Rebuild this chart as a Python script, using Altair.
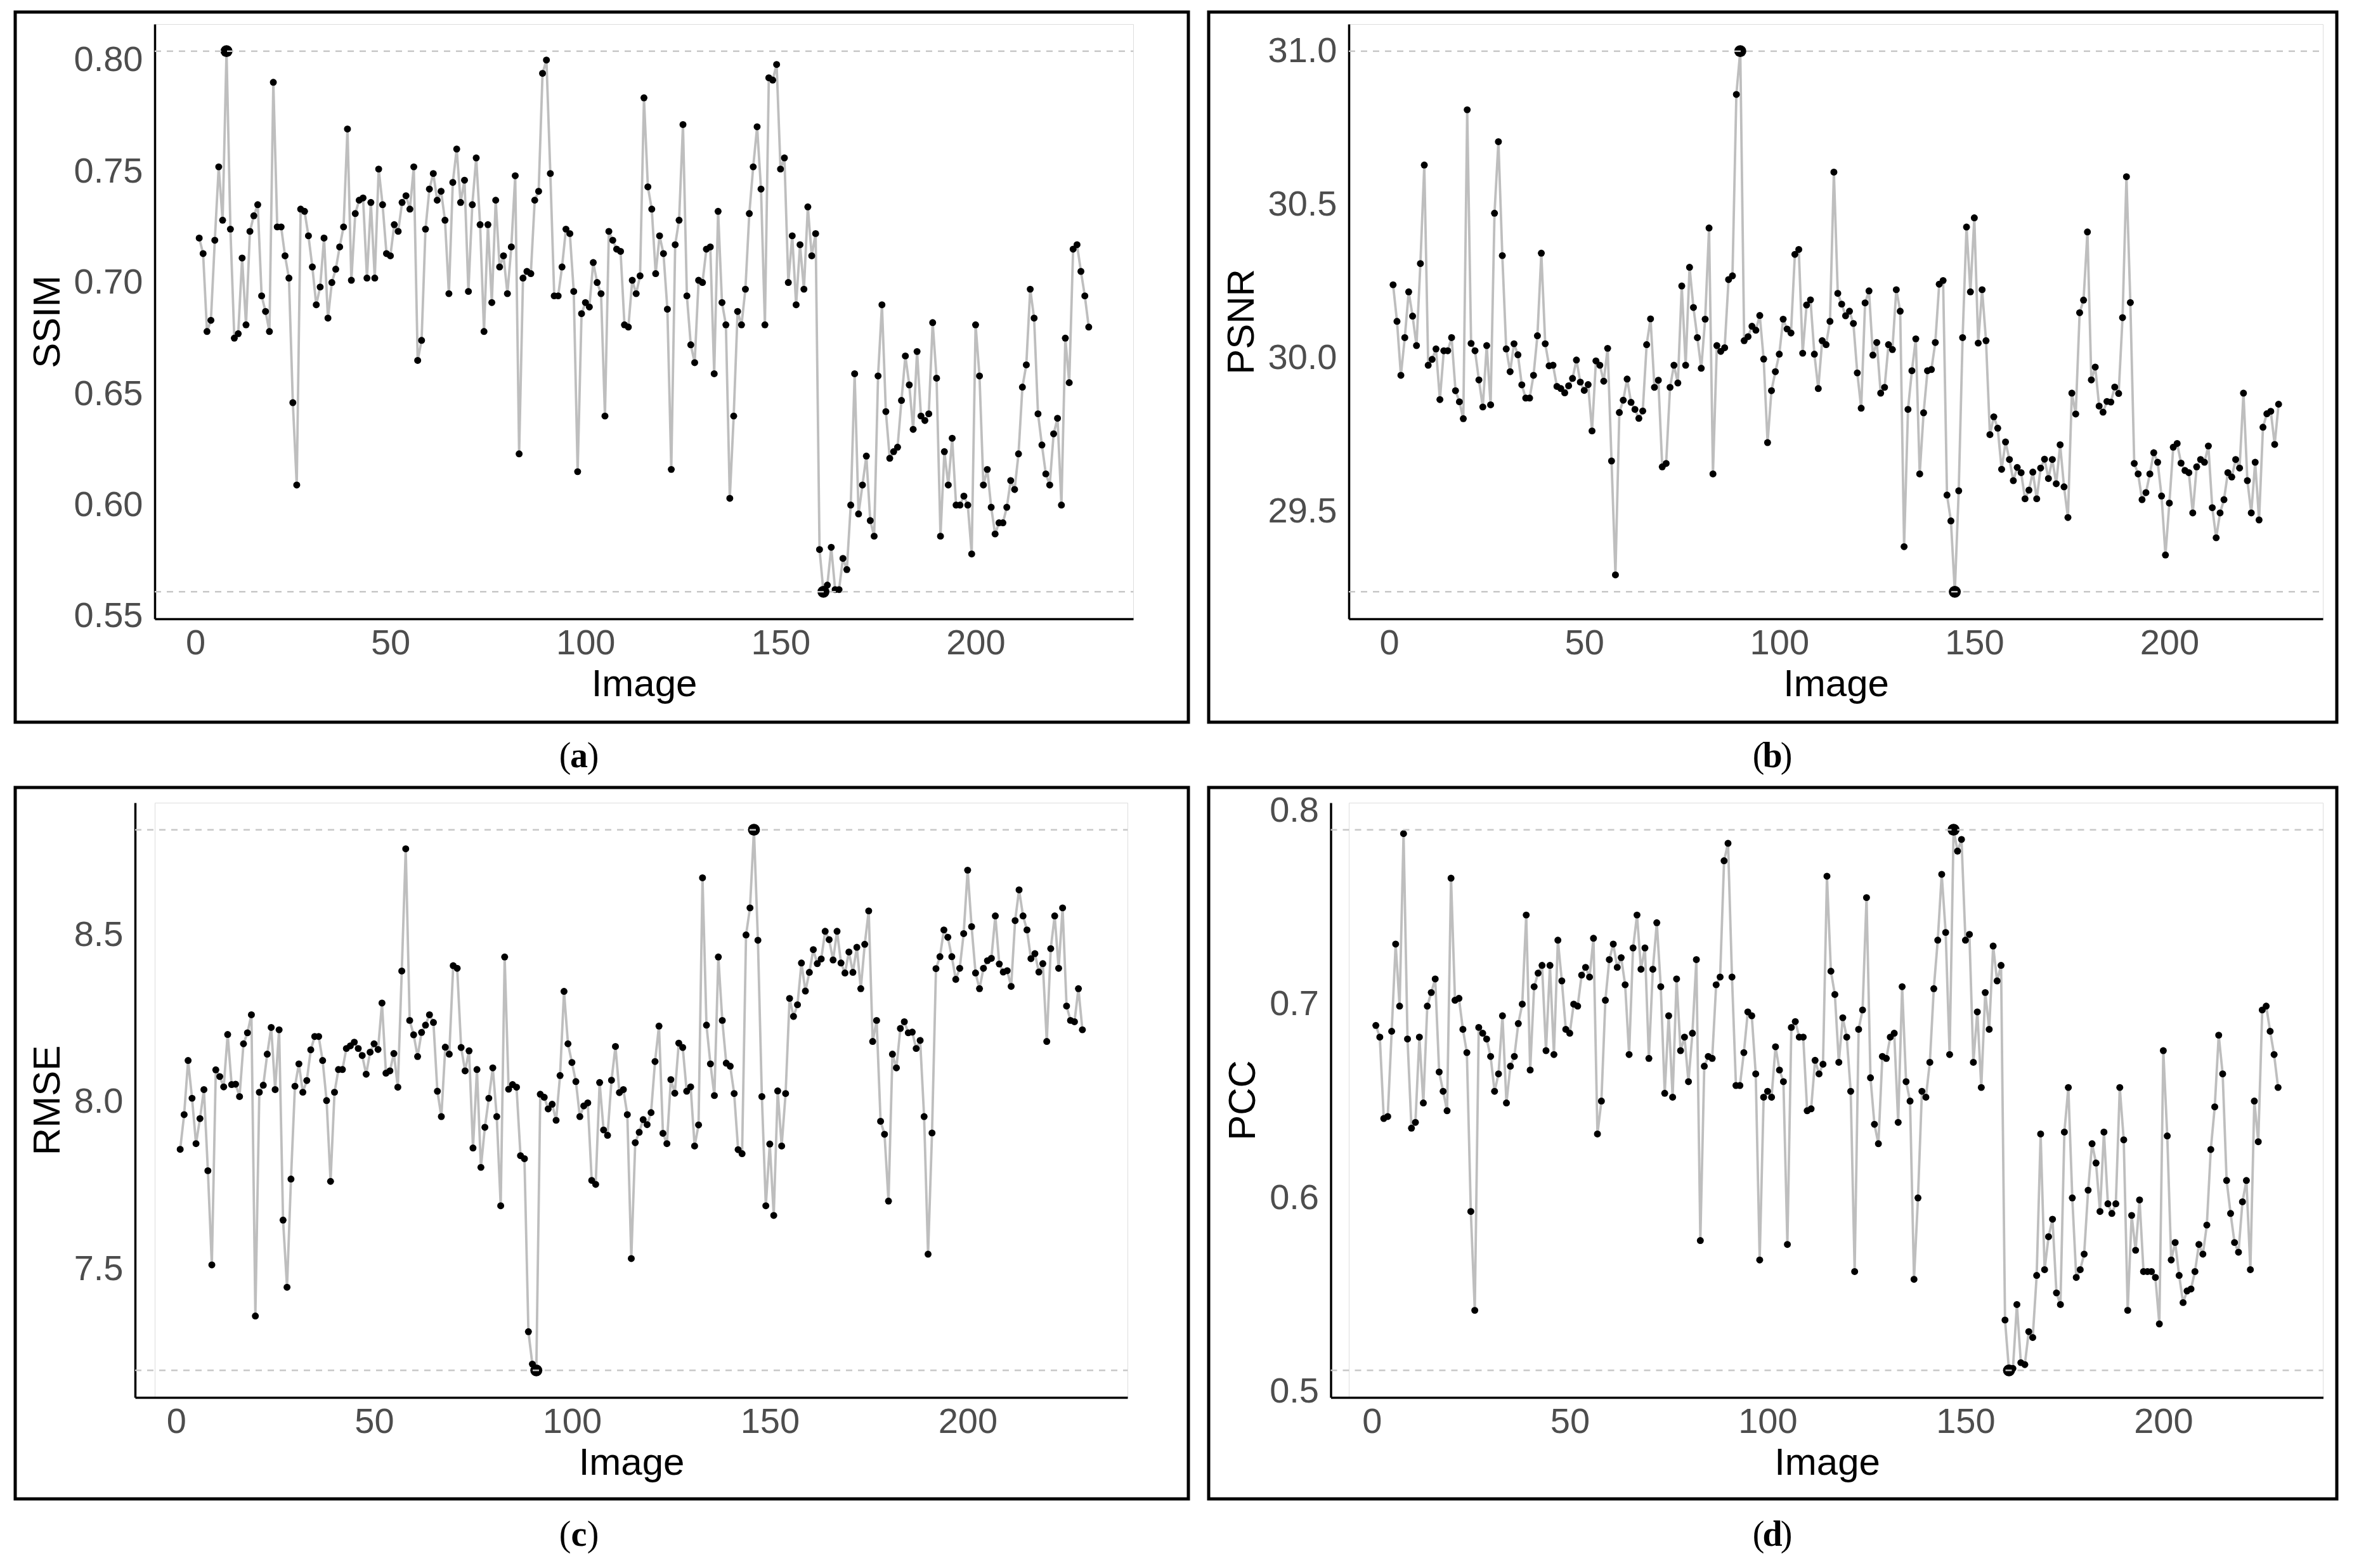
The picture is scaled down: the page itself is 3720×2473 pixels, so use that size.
import altair as alt
import pandas as pd

# ---------------- data ----------------
ssim = [0.720, 0.713, 0.678, 0.683, 0.719, 0.752, 0.728, 0.804, 0.724, 0.675,
        0.677, 0.711, 0.681, 0.723, 0.730, 0.735, 0.694, 0.687, 0.678, 0.790,
        0.725, 0.725, 0.712, 0.702, 0.646, 0.609, 0.733, 0.732, 0.721, 0.707,
        0.690, 0.698, 0.720, 0.684, 0.700, 0.706, 0.716, 0.725, 0.769, 0.701,
        0.731, 0.737, 0.738, 0.702, 0.736, 0.702, 0.751, 0.735, 0.713, 0.712,
        0.726, 0.723, 0.736, 0.739, 0.733, 0.752, 0.665, 0.674, 0.724, 0.742,
        0.749, 0.737, 0.741, 0.728, 0.695, 0.745, 0.760, 0.736, 0.746, 0.696,
        0.735, 0.756, 0.726, 0.678, 0.726, 0.691, 0.737, 0.707, 0.712, 0.695,
        0.716, 0.748, 0.623, 0.702, 0.705, 0.704, 0.737, 0.741, 0.794, 0.800,
        0.749, 0.694, 0.694, 0.707, 0.724, 0.722, 0.696, 0.615, 0.686, 0.691,
        0.689, 0.709, 0.700, 0.695, 0.640, 0.723, 0.719, 0.715, 0.714, 0.681,
        0.680, 0.701, 0.695, 0.703, 0.783, 0.743, 0.733, 0.704, 0.721, 0.713,
        0.688, 0.616, 0.717, 0.728, 0.771, 0.694, 0.672, 0.664, 0.701, 0.700,
        0.715, 0.716, 0.659, 0.732, 0.691, 0.681, 0.603, 0.640, 0.687, 0.681,
        0.697, 0.731, 0.752, 0.770, 0.742, 0.681, 0.792, 0.791, 0.798, 0.751,
        0.756, 0.700, 0.721, 0.690, 0.717, 0.697, 0.734, 0.712, 0.722, 0.580,
        0.561, 0.564, 0.581, 0.562, 0.562, 0.576, 0.571, 0.600, 0.659, 0.596,
        0.609, 0.622, 0.593, 0.586, 0.658, 0.690, 0.642, 0.621, 0.624, 0.626,
        0.647, 0.667, 0.654, 0.634, 0.669, 0.640, 0.638, 0.641, 0.682, 0.657,
        0.586, 0.624, 0.609, 0.630, 0.600, 0.600, 0.604, 0.600, 0.578, 0.681,
        0.658, 0.609, 0.616, 0.599, 0.587, 0.592, 0.592, 0.599, 0.611, 0.607,
        0.623, 0.653, 0.663, 0.697, 0.684, 0.641, 0.627, 0.614, 0.609, 0.632,
        0.639, 0.600, 0.675, 0.655, 0.715, 0.717, 0.705, 0.694, 0.680]

psnr = [30.239, 30.120, 29.944, 30.067, 30.216, 30.137, 30.041, 30.308, 30.629, 29.977,
        29.996, 30.030, 29.865, 30.024, 30.024, 30.067, 29.894, 29.858, 29.803, 30.809,
        30.048, 30.024, 29.929, 29.841, 30.041, 29.848, 30.472, 30.705, 30.334, 30.030,
        29.956, 30.047, 30.011, 29.913, 29.870, 29.870, 29.944, 30.073, 30.342, 30.047,
        29.975, 29.977, 29.908, 29.901, 29.887, 29.910, 29.934, 29.994, 29.922, 29.895,
        29.914, 29.763, 29.991, 29.977, 29.925, 30.032, 29.665, 29.294, 29.823, 29.863,
        29.932, 29.856, 29.833, 29.804, 29.828, 30.044, 30.128, 29.905, 29.928, 29.646,
        29.657, 29.905, 29.977, 29.919, 30.235, 29.977, 30.296, 30.165, 30.067, 29.967,
        30.127, 30.424, 29.623, 30.041, 30.022, 30.034, 30.256, 30.268, 30.859, 31.000,
        30.057, 30.070, 30.104, 30.091, 30.139, 29.997, 29.725, 29.894, 29.956, 30.013,
        30.127, 30.095, 30.082, 30.338, 30.354, 30.016, 30.173, 30.190, 30.013, 29.901,
        30.057, 30.044, 30.120, 30.606, 30.211, 30.176, 30.138, 30.153, 30.113, 29.952,
        29.837, 30.180, 30.219, 30.010, 30.051, 29.886, 29.905, 30.044, 30.028, 30.223,
        30.153, 29.386, 29.833, 29.959, 30.063, 29.623, 29.822, 29.959, 29.963, 30.051,
        30.241, 30.253, 29.554, 29.470, 29.239, 29.568, 30.067, 30.427, 30.216, 30.457,
        30.049, 30.223, 30.057, 29.751, 29.809, 29.772, 29.638, 29.727, 29.670, 29.601,
        29.644, 29.627, 29.542, 29.570, 29.629, 29.542, 29.642, 29.671, 29.608, 29.670,
        29.591, 29.718, 29.581, 29.481, 29.886, 29.818, 30.148, 30.189, 30.411, 29.929,
        29.971, 29.844, 29.824, 29.859, 29.857, 29.906, 29.885, 30.132, 30.591, 30.181,
        29.657, 29.623, 29.539, 29.562, 29.623, 29.692, 29.661, 29.551, 29.359, 29.528,
        29.710, 29.722, 29.658, 29.634, 29.627, 29.496, 29.646, 29.670, 29.661, 29.714,
        29.513, 29.415, 29.496, 29.539, 29.627, 29.613, 29.670, 29.642, 29.886, 29.601,
        29.496, 29.661, 29.473, 29.775, 29.819, 29.827, 29.719, 29.850]

rmse = [7.858, 7.962, 8.124, 8.011, 7.875, 7.950, 8.037, 7.794, 7.512, 8.096,
        8.076, 8.045, 8.202, 8.052, 8.053, 8.016, 8.174, 8.207, 8.261, 7.359,
        8.029, 8.050, 8.143, 8.223, 8.037, 8.216, 7.646, 7.445, 7.769, 8.047,
        8.114, 8.029, 8.064, 8.156, 8.196, 8.196, 8.124, 8.004, 7.762, 8.029,
        8.097, 8.097, 8.160, 8.168, 8.179, 8.160, 8.139, 8.083, 8.149, 8.174,
        8.157, 8.296, 8.086, 8.093, 8.145, 8.044, 8.392, 8.758, 8.244, 8.201,
        8.136, 8.208, 8.230, 8.261, 8.238, 8.032, 7.956, 8.164, 8.143, 8.408,
        8.400, 8.163, 8.093, 8.153, 7.862, 8.097, 7.804, 7.924, 8.011, 8.102,
        7.956, 7.689, 8.434, 8.038, 8.052, 8.044, 7.839, 7.830, 7.312, 7.215,
        7.196, 8.023, 8.014, 7.979, 7.993, 7.945, 8.079, 8.331, 8.174, 8.118,
        8.061, 7.956, 7.988, 7.997, 7.765, 7.753, 8.058, 7.916, 7.900, 8.065,
        8.166, 8.028, 8.037, 7.962, 7.531, 7.878, 7.909, 7.947, 7.932, 7.968,
        8.121, 8.227, 7.906, 7.875, 8.067, 8.026, 8.176, 8.163, 8.032, 8.045,
        7.868, 7.931, 8.671, 8.230, 8.114, 8.019, 8.434, 8.244, 8.116, 8.107,
        8.025, 7.857, 7.845, 8.500, 8.581, 8.815, 8.484, 8.016, 7.689, 7.874,
        7.660, 8.033, 7.868, 8.025, 8.310, 8.256, 8.291, 8.416, 8.332, 8.388,
        8.456, 8.414, 8.428, 8.511, 8.486, 8.425, 8.511, 8.416, 8.386, 8.449,
        8.388, 8.463, 8.339, 8.472, 8.572, 8.181, 8.244, 7.942, 7.903, 7.703,
        8.143, 8.102, 8.220, 8.240, 8.207, 8.209, 8.160, 8.184, 7.956, 7.544,
        7.907, 8.399, 8.435, 8.515, 8.493, 8.435, 8.367, 8.400, 8.504, 8.694,
        8.525, 8.386, 8.339, 8.400, 8.423, 8.430, 8.557, 8.413, 8.389, 8.393,
        8.346, 8.543, 8.635, 8.557, 8.515, 8.429, 8.444, 8.389, 8.414, 8.181,
        8.459, 8.557, 8.400, 8.581, 8.287, 8.244, 8.240, 8.339, 8.216]

pcc = [0.689, 0.683, 0.641, 0.642, 0.686, 0.731, 0.699, 0.788, 0.682, 0.636,
       0.639, 0.683, 0.649, 0.699, 0.706, 0.713, 0.665, 0.655, 0.645, 0.765,
       0.702, 0.703, 0.687, 0.675, 0.593, 0.542, 0.688, 0.685, 0.682, 0.673,
       0.655, 0.664, 0.694, 0.649, 0.668, 0.673, 0.690, 0.700, 0.746, 0.666,
       0.709, 0.716, 0.720, 0.676, 0.720, 0.674, 0.733, 0.712, 0.687, 0.685,
       0.700, 0.699, 0.715, 0.719, 0.714, 0.734, 0.633, 0.650, 0.702, 0.723,
       0.731, 0.719, 0.724, 0.710, 0.674, 0.729, 0.746, 0.718, 0.729, 0.672,
       0.718, 0.742, 0.709, 0.654, 0.694, 0.652, 0.713, 0.676, 0.683, 0.660,
       0.685, 0.723, 0.578, 0.668, 0.673, 0.672, 0.710, 0.714, 0.774, 0.783,
       0.714, 0.658, 0.658, 0.675, 0.696, 0.694, 0.664, 0.568, 0.652, 0.655,
       0.652, 0.678, 0.666, 0.660, 0.576, 0.688, 0.691, 0.683, 0.683, 0.645,
       0.646, 0.671, 0.664, 0.669, 0.766, 0.717, 0.705, 0.670, 0.693, 0.683,
       0.655, 0.562, 0.687, 0.697, 0.755, 0.662, 0.638, 0.628, 0.673, 0.672,
       0.683, 0.685, 0.639, 0.709, 0.660, 0.650, 0.558, 0.600, 0.655, 0.652,
       0.670, 0.708, 0.733, 0.767, 0.737, 0.674, 0.790, 0.779, 0.785, 0.733,
       0.736, 0.670, 0.696, 0.657, 0.706, 0.687, 0.730, 0.712, 0.720, 0.537,
       0.511, 0.512, 0.545, 0.515, 0.514, 0.531, 0.528, 0.560, 0.633, 0.563,
       0.580, 0.589, 0.551, 0.545, 0.634, 0.657, 0.600, 0.559, 0.563, 0.571,
       0.604, 0.628, 0.618, 0.593, 0.634, 0.597, 0.592, 0.597, 0.657, 0.630,
       0.542, 0.591, 0.573, 0.599, 0.562, 0.562, 0.562, 0.559, 0.535, 0.676,
       0.632, 0.568, 0.577, 0.560, 0.546, 0.552, 0.553, 0.562, 0.576, 0.571,
       0.586, 0.625, 0.647, 0.684, 0.664, 0.609, 0.592, 0.577, 0.572, 0.598,
       0.609, 0.563, 0.650, 0.629, 0.697, 0.699, 0.686, 0.674, 0.657]

x_ticks = [0, 50, 100, 150, 200]
ssim_ticks = [0.55, 0.60, 0.65, 0.70, 0.75, 0.80]
psnr_ticks = [29.5, 30.0, 30.5, 31.0]
rmse_ticks = [7.5, 8.0, 8.5]
pcc_ticks = [0.5, 0.6, 0.7, 0.8]

LABEL_FS = 56
TITLE_FS = 60
SANS = "Liberation Sans"
SERIF = "Liberation Serif"


def panel(values, ytitle, yticks, yfmt, width, height, xrange, yoffset,
          frame, letter, cap):
    n = len(values)
    df = pd.DataFrame({"Image": list(range(1, n + 1)), "value": values})
    vmin, vmax = min(values), max(values)
    r = vmax - vmin
    ydom = [vmin - 0.05 * r, vmax + 0.05 * r]
    xr = n - 1
    xdom = [1 - 0.05 * xr, n + 0.05 * xr]

    xscale = alt.Scale(domain=xdom, range=xrange, nice=False, zero=False)
    xaxis = alt.Axis(values=x_ticks, format="d", grid=False, ticks=False,
                     domain=True, domainColor="black", domainWidth=3.5,
                     labelFont=SANS, labelFontSize=LABEL_FS, labelColor="#4d4d4d",
                     labelPadding=11, titleFont=SANS, titleFontSize=TITLE_FS,
                     titleFontWeight="normal", titleColor="black", titlePadding=8)
    xenc = alt.X("Image:Q", scale=xscale, axis=xaxis, title="Image")
    yenc = alt.Y(
        "value:Q",
        scale=alt.Scale(domain=ydom, nice=False, zero=False),
        axis=alt.Axis(values=yticks, format=yfmt, grid=False, ticks=False,
                      domain=True, domainColor="black", domainWidth=3.5,
                      offset=yoffset,
                      labelFont=SANS, labelFontSize=LABEL_FS,
                      labelColor="#4d4d4d", labelPadding=19, titleFont=SANS,
                      titleFontSize=TITLE_FS, titleFontWeight="normal",
                      titleColor="black", titlePadding=10),
        title=ytitle,
    )

    base = alt.Chart(df)
    line = base.mark_line(color="#bebebe", strokeWidth=3.8).encode(x=xenc, y=yenc)
    pts = base.mark_circle(color="black", opacity=1, size=120).encode(x=xenc, y=yenc)

    ext = df.loc[[df["value"].idxmax(), df["value"].idxmin()]]
    big = alt.Chart(ext).mark_circle(color="black", opacity=1, size=360).encode(x=xenc, y=yenc)

    # dashed reference lines at the maximum and minimum, across the whole x range
    ref = pd.DataFrame({"value": [vmax, vmin], "x0": [xdom[0]] * 2, "x1": [xdom[1]] * 2})
    rules = alt.Chart(ref).mark_rule(
        color="#c8c8c8", strokeDash=[10, 9], strokeWidth=2.5
    ).encode(x=alt.X("x0:Q", scale=xscale, axis=xaxis, title="Image"), x2="x1:Q", y=yenc)

    one = pd.DataFrame({"k": [0]})
    fx1, fy1, fx2, fy2 = frame
    box = alt.Chart(one).mark_rect(fillOpacity=0, stroke="black", strokeWidth=5).encode(
        x=alt.value(fx1), x2=alt.value(fx2), y=alt.value(fy1), y2=alt.value(fy2)
    )

    cx, cy = cap
    cap_l = alt.Chart(one).mark_text(text="(", font=SERIF, fontSize=56, align="center",
                                     baseline="middle", color="black").encode(
        x=alt.value(cx - 22), y=alt.value(cy))
    cap_m = alt.Chart(one).mark_text(text=letter, font=SERIF, fontSize=56, fontWeight="bold",
                                     align="center", baseline="middle", color="black").encode(
        x=alt.value(cx), y=alt.value(cy))
    cap_r = alt.Chart(one).mark_text(text=")", font=SERIF, fontSize=56, align="center",
                                     baseline="middle", color="black").encode(
        x=alt.value(cx + 22), y=alt.value(cy))

    return alt.layer(line, pts, big, rules, box, cap_l, cap_m, cap_r).properties(
        width=width, height=height
    )


pa = panel(ssim, "SSIM", ssim_ticks, ".2f", 1543, 938, [0, 1543], 0,
           (-220, -19, 1630, 1101), "a", (669, 1155))
pb = panel(psnr, "PSNR", psnr_ticks, ".1f", 1536, 938, [0, 1536], 0,
           (-221, -19, 1558, 1101), "b", (668, 1155))
pc = panel(rmse, "RMSE", rmse_ticks, ".1f", 1534, 938, [-31, 1534], 31,
           (-220, -24, 1630, 1098), "c", (669, 1155))
pd_ = panel(pcc, "PCC", pcc_ticks, ".1f", 1536, 938, [-28.5, 1536.5], 28.5,
            (-221, -24, 1558, 1098), "d", (668, 1155))

row1 = alt.hconcat(pa, pb, spacing=26)
row2 = alt.hconcat(pc, pd_, spacing=26)

chart = alt.vconcat(row1, row2, spacing=17).properties(
    padding={"left": 21, "top": 16, "right": 10, "bottom": 10},
    background="white",
).configure_view(strokeWidth=0).configure(font=SANS)

chart.save("out.html", embed_options={"renderer": "svg", "actions": False})
